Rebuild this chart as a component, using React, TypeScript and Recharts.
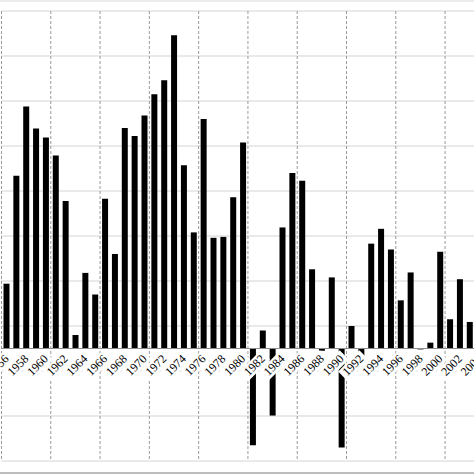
import React from 'react';
import {
    BarChart,
    Bar,
    XAxis,
    YAxis,
    CartesianGrid,
    ReferenceLine
} from 'recharts';

// years on the category axis (the last one sits past the right edge of the crop)
const YEARS = [
    1956, 1957, 1958, 1959, 1960, 1961, 1962, 1963, 1964, 1965,
    1966, 1967, 1968, 1969, 1970, 1971, 1972, 1973, 1974, 1975,
    1976, 1977, 1978, 1979, 1980, 1981, 1982, 1983, 1984, 1985,
    1986, 1987, 1988, 1989, 1990, 1991, 1992, 1993, 1994, 1995,
    1996, 1997, 1998, 1999, 2000, 2001, 2002, 2003, 2004
];

// bar heights (value axis is cropped away, so units are grid steps)
const VALUES = [
    1.44, 3.84, 5.38, 4.89, 4.69, 4.29, 3.28, 0.30, 1.68, 1.20,
    3.33, 2.10, 4.90, 4.72, 5.18, 5.65, 5.96, 6.96, 4.07, 2.58,
    5.10, 2.46, 2.48, 3.36, 4.58, -2.15, 0.40, -1.49, 2.69, 3.90,
    3.73, 1.76, -0.05, 1.58, -2.20, 0.50, -0.19, 2.33, 2.66, 2.20,
    1.07, 1.69, -0.02, 0.13, 2.15, 0.65, 1.54, 0.59, null
];

const Y_TICKS = [-2.5, -1.5, -0.5, 0.5, 1.5, 2.5, 3.5, 4.5, 5.5, 6.5, 7.5];
const GRID_EVERY = 5; // dashed vertical lines every five years

const data = YEARS.map((year, i) => ({ year: String(year), value: VALUES[i] }));

const W = 490;
const H = 474;
const X_AXIS_H = 13;
const MARGIN = { top: 11, right: 5.5, bottom: 0, left: 1.5 };
const PLOT_H = H - MARGIN.top - MARGIN.bottom - X_AXIS_H;
const Y_MIN = Y_TICKS[0];
const Y_MAX = Y_TICKS[Y_TICKS.length - 1];
const ZERO_Y = MARGIN.top + (PLOT_H * Y_MAX) / (Y_MAX - Y_MIN);

const YearTick = (props: any) => {
    const { x, payload } = props;
    return (
        <g transform={`translate(${x + 3},${ZERO_Y + 11})`}>
            <rect x={-27} y={-10} width={30} height={13} fill="#fff" transform="rotate(-45)" />
            <text
                transform="rotate(-45)"
                textAnchor="end"
                fontFamily="'Liberation Serif', 'Times New Roman', serif"
                fontSize={12}
                fill="#000"
            >
                {payload.value}
            </text>
        </g>
    );
};

export default function App() {
    const verticalLines = ({ offset }: any) => {
        const band = offset.width / YEARS.length;
        return YEARS.map((_, i) => i)
            .filter((i) => i % GRID_EVERY === 0)
            .map((i) => offset.left + i * band);
    };

    return (
        <div
            style={{
                position: 'absolute',
                left: 0,
                top: 0,
                width: 474,
                height: 474,
                overflow: 'hidden',
                background: '#fff'
            }}
        >
            <div style={{ position: 'absolute', left: 0, top: 0, width: 474, height: 2, background: '#ececec' }} />
            <BarChart width={W} height={H} data={data} margin={MARGIN} barSize={6}>
                <CartesianGrid vertical={false} stroke="#d4d4d4" horizontalValues={Y_TICKS} />
                <CartesianGrid
                    horizontal={false}
                    stroke="#9a9a9a"
                    strokeDasharray="3 2"
                    verticalCoordinatesGenerator={verticalLines}
                />
                <YAxis hide domain={[Y_MIN, Y_MAX]} ticks={Y_TICKS} allowDataOverflow />
                <XAxis
                    dataKey="year"
                    interval={1}
                    height={X_AXIS_H}
                    tickLine={false}
                    axisLine={false}
                    tick={<YearTick />}
                    zIndex={250}
                />
                <ReferenceLine y={0} stroke="#8c8c8c" />
                <Bar dataKey="value" fill="#000" isAnimationActive={false} />
            </BarChart>
            <div style={{ position: 'absolute', left: 0, top: 472, width: 474, height: 2, background: '#bdbdbd' }} />
        </div>
    );
}
